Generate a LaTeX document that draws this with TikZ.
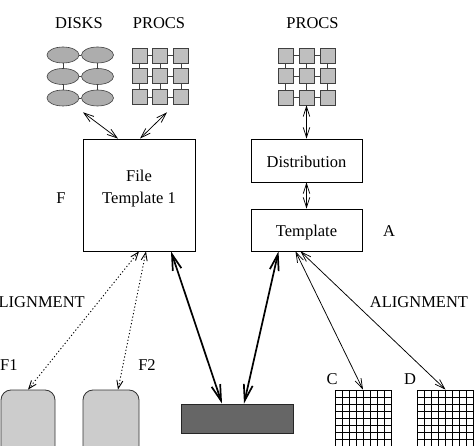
\documentclass[tikz,border=0pt]{standalone}
\usepackage{fontspec}
\setmainfont{Liberation Serif}
\usetikzlibrary{arrows.meta,shapes.geometric}
\begin{document}
\begin{tikzpicture}[x=1pt,y=-1pt,
  font=\fontsize{16.5}{21.6}\selectfont,
  lbl/.style={anchor=base, inner sep=0pt},
  boxnode/.style={draw, line width=0.8pt, inner sep=0pt, text height=14pt, text depth=0pt},
  disk/.style={ellipse, draw=black!75, fill=black!32, line width=0.6pt, minimum width=32pt, minimum height=16pt, inner sep=0pt},
  proc/.style={rectangle, draw=black!75, fill=black!25, line width=0.6pt, minimum size=15pt, inner sep=0pt},
  link/.style={draw=black!75, line width=0.6pt},
  rbox/.style={rectangle, draw=black!80, fill=black!20, line width=0.8pt, rounded corners=10pt, inner sep=0pt},
  gridbox/.style={rectangle, draw, line width=0.8pt, minimum size=56pt, inner sep=0pt,
    path picture={\foreach \k in {1,...,7}{
      \draw[line width=0.8pt] ([xshift=\k*7pt]path picture bounding box.south west) -- ([xshift=\k*7pt]path picture bounding box.north west);
      \draw[line width=0.8pt] ([yshift=\k*7pt]path picture bounding box.south west) -- ([yshift=\k*7pt]path picture bounding box.south east);}}},
  finearrow/.style={line width=0.75pt, <->, >={Straight Barb[length=10pt,width=6.5pt]}},
  dotarrow/.style={line width=0.9pt, dash pattern=on 1.2pt off 2.2pt, <->, >={Straight Barb[length=8pt,width=6pt]}},
  thickarrow/.style={line width=1.7pt, <->, >={Straight Barb[length=16pt,width=9pt]}},
]
\useasboundingbox (0,0) rectangle (474,446);
\fill[white] (0,0) rectangle (474,446);
\clip (0,0) rectangle (474,446);

% top labels
\node[lbl] (disks) at (79,28.3) {DISKS};
\node[lbl] (procsL) at (159,28.3) {PROCS};
\node[lbl] (procsR) at (312.5,28.3) {PROCS};

% disks
\foreach \r/\yy in {1/55,2/76.5,3/98}
  \foreach \c/\xx in {1/63,2/97.5}
    \node[disk] (d\r\c) at (\xx,\yy) {};
\foreach \r in {1,2,3} \draw[link] (d\r1) -- (d\r2);
\foreach \c in {1,2} {\draw[link] (d1\c) -- (d2\c); \draw[link] (d2\c) -- (d3\c);}

% procs left
\foreach \r/\yy in {1/55.5,2/76,3/97}
  \foreach \c/\xx in {1/139.5,2/160,3/181}
    \node[proc] (pl\r\c) at (\xx,\yy) {};
\foreach \r in {1,2,3} {\draw[link] (pl\r1) -- (pl\r2); \draw[link] (pl\r2) -- (pl\r3);}
\foreach \c in {1,2,3} {\draw[link] (pl1\c) -- (pl2\c); \draw[link] (pl2\c) -- (pl3\c);}

% procs right
\foreach \r/\yy in {1/55.5,2/76,3/97.5}
  \foreach \c/\xx in {1/285.5,2/306.5,3/327.5}
    \node[proc] (pr\r\c) at (\xx,\yy) {};
\foreach \r in {1,2,3} {\draw[link] (pr\r1) -- (pr\r2); \draw[link] (pr\r2) -- (pr\r3);}
\foreach \c in {1,2,3} {\draw[link] (pr1\c) -- (pr2\c); \draw[link] (pr2\c) -- (pr3\c);}

% main boxes
\node[draw, line width=0.8pt, minimum width=112pt, minimum height=112pt, inner sep=0pt,
      text height=16.6pt, text depth=0pt] (ft) at (139,195)
  {\begin{tabular}[b]{@{}c@{}}File\\Template 1\end{tabular}};
\node[boxnode, minimum width=111pt, minimum height=43pt] (dist) at (306.5,160.5) {Distribution};
\node[boxnode, minimum width=111pt, minimum height=42pt] (tmpl) at (306.5,230) {Template};
\node[lbl] (F) at (61,204) {F};
\node[lbl] (A) at (389,237) {A};

% bottom objects
\node[rbox, minimum width=54pt, minimum height=70pt] (f1) at (28,425) {};
\node[rbox, minimum width=56pt, minimum height=70pt] (f2) at (111,425) {};
\node[draw=black!85, fill=black!60, line width=0.8pt, minimum width=112pt, minimum height=29pt, inner sep=0pt] (dark) at (237,418.5) {};
\node[gridbox] (gc) at (363,418) {};
\node[gridbox] (gd) at (445.5,418) {};

% labels
\node[lbl, anchor=base east] (alL) at (85,307.3) {LIGNMENT};
\node[lbl] (alR) at (419,307.3) {ALIGNMENT};
\node[lbl, anchor=base west] (F1) at (0,370.7) {F1};
\node[lbl] (F2) at (147,370.7) {F2};
\node[lbl] (C) at (332,384.3) {C};
\node[lbl] (D) at (410,384.3) {D};

% connectors
\draw[finearrow] ([xshift=20pt,yshift=-6pt]d31.south) -- ([xshift=-21pt]ft.north);
\draw[finearrow] ([xshift=7pt,yshift=-7.5pt]pl32.south) -- ([xshift=1pt]ft.north);
\draw[finearrow] (pr32.south) -- (dist.north);
\draw[finearrow] (dist.south) -- (tmpl.north);
\draw[dotarrow] (ft.south) -- (f1.north);
\draw[dotarrow] ([xshift=7pt]ft.south) -- ([xshift=7pt]f2.north);
\draw[thickarrow] ([xshift=32pt]ft.south) -- ([xshift=-15pt]dark.north);
\draw[thickarrow] ([xshift=-28pt]tmpl.south) -- ([xshift=7pt]dark.north);
\draw[finearrow] ([xshift=-11pt]tmpl.south) -- (gc.north);
\draw[finearrow] ([xshift=-6pt]tmpl.south) -- (gd.north);
\end{tikzpicture}
\end{document}
